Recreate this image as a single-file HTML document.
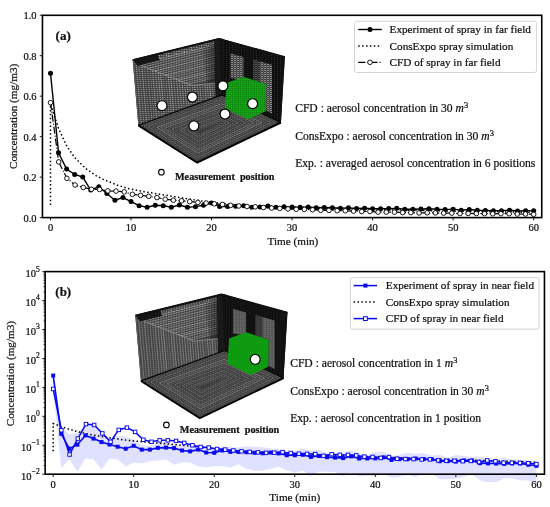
<!DOCTYPE html><html><head><meta charset="utf-8"><title>Spray concentration</title><style>
html,body{margin:0;padding:0;background:#fff;width:550px;height:507px;overflow:hidden}svg{display:block}text{font-family:"Liberation Serif","DejaVu Serif",serif;fill:#111;stroke:#111;stroke-width:0.22px}</style></head><body>
<svg width="550" height="507" viewBox="0 0 550 507">
<defs>
<pattern id="mV" width="2.5" height="2" patternUnits="userSpaceOnUse"><rect width="2.5" height="2" fill="#555"/><rect x="0.6" y="0.5" width="1.4" height="1" fill="#bcbcbc"/></pattern>
<pattern id="mH" width="2.5" height="2" patternUnits="userSpaceOnUse" patternTransform="rotate(-13.8)"><rect width="2.5" height="2" fill="#4a4a4a"/><rect x="0" y="0.5" width="2.5" height="0.9" fill="#9c9c9c"/><rect x="0" y="0" width="0.7" height="2" fill="#3a3a3a"/></pattern>
<pattern id="mD" width="3" height="2" patternUnits="userSpaceOnUse"><rect width="3" height="2" fill="#0e0e0e"/><rect x="1" y="1" width="1" height="1" fill="#2a2a2a"/></pattern>
<pattern id="mW" width="3" height="2" patternUnits="userSpaceOnUse"><rect width="3" height="2" fill="#3a3a3a"/><rect x="0" y="0" width="2" height="1" fill="#8c8c8c"/><rect x="2" y="1" width="1" height="1" fill="#606060"/></pattern>
<pattern id="mFine" width="2.2" height="2" patternUnits="userSpaceOnUse"><rect x="0" y="0" width="0.6" height="2" fill="#000" fill-opacity="0.18"/><rect x="0" y="0" width="2.2" height="0.5" fill="#000" fill-opacity="0.12"/></pattern>
<pattern id="mG" width="2" height="2" patternUnits="userSpaceOnUse"><rect width="2" height="2" fill="#10a012"/><rect width="1" height="1" fill="#0a800c"/><rect x="1" y="1" width="1" height="1" fill="#14a816"/></pattern>
<linearGradient id="gB" x1="0" y1="0" x2="1" y2="0"><stop offset="0" stop-color="#000" stop-opacity="0"/><stop offset="1" stop-color="#000" stop-opacity="0.45"/></linearGradient>
<clipPath id="cLW"><polygon points="132.7,59.5 218.9,38.3 222,95 138.4,125.4"/></clipPath>
<clipPath id="cU"><polygon points="136,64.5 158,58.6 214,44.5 215.5,83 191.8,85.5 140.9,65.5"/></clipPath>
<clipPath id="cFL"><polygon points="138.4,125.4 222,95 280.9,122.5 197.2,162.5"/></clipPath>
<clipPath id="cRW"><polygon points="218.9,38.3 284.8,56.6 280.9,122.5 222,95"/></clipPath>
</defs>
<g transform="translate(0,0)">
<polygon points="132.7,59.5 218.9,38.3 222,95 138.4,125.4" fill="#4e4e4e" />
<g clip-path="url(#cLW)">
<line x1="131" y1="36" x2="139.08" y2="130" stroke="#9c9c9c" stroke-width="1.05"/>
<line x1="133.8" y1="36" x2="141.88" y2="130" stroke="#9c9c9c" stroke-width="1.05"/>
<line x1="136.4" y1="36" x2="144.48" y2="130" stroke="#8b8b8b" stroke-width="1.05"/>
<line x1="139.2" y1="36" x2="147.28" y2="130" stroke="#a8a8a8" stroke-width="1.05"/>
<line x1="141.8" y1="36" x2="149.88" y2="130" stroke="#868686" stroke-width="1.05"/>
<line x1="144.6" y1="36" x2="152.68" y2="130" stroke="#939393" stroke-width="1.05"/>
<line x1="147.2" y1="36" x2="155.28" y2="130" stroke="#858585" stroke-width="1.05"/>
<line x1="149.6" y1="36" x2="157.68" y2="130" stroke="#a6a6a6" stroke-width="1.05"/>
<line x1="152.4" y1="36" x2="160.48" y2="130" stroke="#9c9c9c" stroke-width="1.05"/>
<line x1="155" y1="36" x2="163.08" y2="130" stroke="#a7a7a7" stroke-width="1.05"/>
<line x1="157.4" y1="36" x2="165.48" y2="130" stroke="#b5b5b5" stroke-width="1.05"/>
<line x1="159.8" y1="36" x2="167.88" y2="130" stroke="#838383" stroke-width="1.05"/>
<line x1="162.2" y1="36" x2="170.28" y2="130" stroke="#8c8c8c" stroke-width="1.05"/>
<line x1="164.8" y1="36" x2="172.88" y2="130" stroke="#a6a6a6" stroke-width="1.05"/>
<line x1="167.2" y1="36" x2="175.28" y2="130" stroke="#b1b1b1" stroke-width="1.05"/>
<line x1="170" y1="36" x2="178.08" y2="130" stroke="#949494" stroke-width="1.05"/>
<line x1="172.8" y1="36" x2="180.88" y2="130" stroke="#a5a5a5" stroke-width="1.05"/>
<line x1="175.4" y1="36" x2="183.48" y2="130" stroke="#a1a1a1" stroke-width="1.05"/>
<line x1="178" y1="36" x2="186.08" y2="130" stroke="#a8a8a8" stroke-width="1.05"/>
<line x1="180.6" y1="36" x2="188.68" y2="130" stroke="#9f9f9f" stroke-width="1.05"/>
<line x1="183" y1="36" x2="191.08" y2="130" stroke="#aaaaaa" stroke-width="1.05"/>
<line x1="185.4" y1="36" x2="193.48" y2="130" stroke="#9d9d9d" stroke-width="1.05"/>
<line x1="188" y1="36" x2="196.08" y2="130" stroke="#9a9a9a" stroke-width="1.05"/>
<line x1="190.4" y1="36" x2="198.48" y2="130" stroke="#adadad" stroke-width="1.05"/>
<line x1="193" y1="36" x2="201.08" y2="130" stroke="#949494" stroke-width="1.05"/>
<line x1="195.6" y1="36" x2="203.68" y2="130" stroke="#a0a0a0" stroke-width="1.05"/>
<line x1="198.2" y1="36" x2="206.28" y2="130" stroke="#818181" stroke-width="1.05"/>
<line x1="200.6" y1="36" x2="208.68" y2="130" stroke="#a4a4a4" stroke-width="1.05"/>
<line x1="203" y1="36" x2="211.08" y2="130" stroke="#999999" stroke-width="1.05"/>
<line x1="205.4" y1="36" x2="213.48" y2="130" stroke="#b6b6b6" stroke-width="1.05"/>
<line x1="208" y1="36" x2="216.08" y2="130" stroke="#989898" stroke-width="1.05"/>
<line x1="210.4" y1="36" x2="218.48" y2="130" stroke="#818181" stroke-width="1.05"/>
<line x1="212.8" y1="36" x2="220.88" y2="130" stroke="#8d8d8d" stroke-width="1.05"/>
<line x1="215.4" y1="36" x2="223.48" y2="130" stroke="#bbbbbb" stroke-width="1.05"/>
<line x1="217.8" y1="36" x2="225.88" y2="130" stroke="#9e9e9e" stroke-width="1.05"/>
<line x1="220.6" y1="36" x2="228.68" y2="130" stroke="#adadad" stroke-width="1.05"/>
<line x1="223.4" y1="36" x2="231.48" y2="130" stroke="#9a9a9a" stroke-width="1.05"/>
<path d="M130,36.5 H225 M130,38.5 H225 M130,40.5 H225 M130,42.5 H225 M130,44.5 H225 M130,46.5 H225 M130,48.5 H225 M130,50.5 H225 M130,52.5 H225 M130,54.5 H225 M130,56.5 H225 M130,58.5 H225 M130,60.5 H225 M130,62.5 H225 M130,64.5 H225 M130,66.5 H225 M130,68.5 H225 M130,70.5 H225 M130,72.5 H225 M130,74.5 H225 M130,76.5 H225 M130,78.5 H225 M130,80.5 H225 M130,82.5 H225 M130,84.5 H225 M130,86.5 H225 M130,88.5 H225 M130,90.5 H225 M130,92.5 H225 M130,94.5 H225 M130,96.5 H225 M130,98.5 H225 M130,100.5 H225 M130,102.5 H225 M130,104.5 H225 M130,106.5 H225 M130,108.5 H225 M130,110.5 H225 M130,112.5 H225 M130,114.5 H225 M130,116.5 H225 M130,118.5 H225 M130,120.5 H225 M130,122.5 H225 M130,124.5 H225 M130,126.5 H225 M130,128.5 H225" stroke="#383838" stroke-width="1" opacity="0.75"/>
</g>
<g clip-path="url(#cU)">
<polygon points="136,64.5 158,58.6 214,44.5 215.5,83 191.8,85.5 140.9,65.5" fill="#4a4a4a" />
<line x1="130" y1="40.66" x2="225" y2="17.3" stroke="#b0b0b0" stroke-width="0.95"/>
<line x1="130" y1="42.76" x2="225" y2="19.4" stroke="#b7b7b7" stroke-width="0.95"/>
<line x1="130" y1="44.96" x2="225" y2="21.6" stroke="#a1a1a1" stroke-width="0.95"/>
<line x1="130" y1="46.86" x2="225" y2="23.5" stroke="#9f9f9f" stroke-width="0.95"/>
<line x1="130" y1="49.06" x2="225" y2="25.7" stroke="#8c8c8c" stroke-width="0.95"/>
<line x1="130" y1="51.46" x2="225" y2="28.1" stroke="#bcbcbc" stroke-width="0.95"/>
<line x1="130" y1="53.36" x2="225" y2="30" stroke="#949494" stroke-width="0.95"/>
<line x1="130" y1="55.46" x2="225" y2="32.1" stroke="#b9b9b9" stroke-width="0.95"/>
<line x1="130" y1="57.36" x2="225" y2="34" stroke="#8c8c8c" stroke-width="0.95"/>
<line x1="130" y1="59.26" x2="225" y2="35.9" stroke="#a9a9a9" stroke-width="0.95"/>
<line x1="130" y1="61.66" x2="225" y2="38.3" stroke="#979797" stroke-width="0.95"/>
<line x1="130" y1="63.76" x2="225" y2="40.4" stroke="#a8a8a8" stroke-width="0.95"/>
<line x1="130" y1="65.86" x2="225" y2="42.5" stroke="#bababa" stroke-width="0.95"/>
<line x1="130" y1="67.96" x2="225" y2="44.6" stroke="#a6a6a6" stroke-width="0.95"/>
<line x1="130" y1="70.36" x2="225" y2="47" stroke="#939393" stroke-width="0.95"/>
<line x1="130" y1="72.76" x2="225" y2="49.4" stroke="#a6a6a6" stroke-width="0.95"/>
<line x1="130" y1="74.86" x2="225" y2="51.5" stroke="#8c8c8c" stroke-width="0.95"/>
<line x1="130" y1="77.06" x2="225" y2="53.7" stroke="#b1b1b1" stroke-width="0.95"/>
<line x1="130" y1="79.26" x2="225" y2="55.9" stroke="#8d8d8d" stroke-width="0.95"/>
<line x1="130" y1="81.36" x2="225" y2="58" stroke="#979797" stroke-width="0.95"/>
<line x1="130" y1="83.76" x2="225" y2="60.4" stroke="#b2b2b2" stroke-width="0.95"/>
<line x1="130" y1="85.66" x2="225" y2="62.3" stroke="#8e8e8e" stroke-width="0.95"/>
<line x1="130" y1="87.76" x2="225" y2="64.4" stroke="#999999" stroke-width="0.95"/>
<line x1="130" y1="90.16" x2="225" y2="66.8" stroke="#9c9c9c" stroke-width="0.95"/>
<line x1="130" y1="92.06" x2="225" y2="68.7" stroke="#b3b3b3" stroke-width="0.95"/>
<line x1="130" y1="94.26" x2="225" y2="70.9" stroke="#9e9e9e" stroke-width="0.95"/>
<line x1="130" y1="96.66" x2="225" y2="73.3" stroke="#909090" stroke-width="0.95"/>
<line x1="130" y1="98.56" x2="225" y2="75.2" stroke="#919191" stroke-width="0.95"/>
<path d="M131,36 V100 M133.6,36 V100 M136.2,36 V100 M138.8,36 V100 M141.4,36 V100 M144,36 V100 M146.6,36 V100 M149.2,36 V100 M151.8,36 V100 M154.4,36 V100 M157,36 V100 M159.6,36 V100 M162.2,36 V100 M164.8,36 V100 M167.4,36 V100 M170,36 V100 M172.6,36 V100 M175.2,36 V100 M177.8,36 V100 M180.4,36 V100 M183,36 V100 M185.6,36 V100 M188.2,36 V100 M190.8,36 V100 M193.4,36 V100 M196,36 V100 M198.6,36 V100 M201.2,36 V100 M203.8,36 V100 M206.4,36 V100 M209,36 V100 M211.6,36 V100 M214.2,36 V100 M216.8,36 V100 M219.4,36 V100 M222,36 V100 M224.6,36 V100" stroke="#333" stroke-width="0.7" opacity="0.8"/>
<polygon points="200,43 216,38 216,86 208,86" fill="url(#gB)"/>
</g>
<polyline points="140.9,65.5 191.8,85.5 215.5,83" fill="none" stroke="#a0a0a0" stroke-width="0.8" opacity="0.8"/>
<polygon points="218.9,38.3 284.8,56.6 280.9,122.5 222,95" fill="url(#mD)" />
<polygon points="230.5,53.5 243.5,57 243.5,80 230.5,78" fill="url(#mW)" />
<polygon points="253,59.5 272,64.8 272,113.5 253,104" fill="url(#mW)" />
<polygon points="253,59.5 260,61.5 260,106 253,104" fill="#111" opacity="0.45"/>
<polygon points="253,80 266,84 266,110 253,104" fill="#1a1a1a" opacity="0.6"/>
<polygon points="214,40 223,38.6 224,96 215.5,98" fill="#121212" opacity="0.9"/>
<polygon points="244,50 252,52.3 252.5,106 244,102" fill="#121212" opacity="0.85"/>
<polygon points="138.4,125.4 222,95 280.9,122.5 197.2,162.5" fill="#3e3e3e" />
<g clip-path="url(#cFL)">
<polygon points="140.21,125.59 221.96,95.87 279.03,122.51 197.25,161.59" fill="none" stroke="#8b8b8b" stroke-width="0.8"/>
<polygon points="144.05,126.01 221.88,97.7 275.05,122.53 197.37,159.65" fill="none" stroke="#666666" stroke-width="0.8"/>
<polygon points="148.11,126.44 221.8,99.65 270.83,122.55 197.49,157.6" fill="none" stroke="#7d7d7d" stroke-width="0.8"/>
<polygon points="152.4,126.9 221.7,101.7 266.38,122.57 197.61,155.43" fill="none" stroke="#6e6e6e" stroke-width="0.8"/>
<polygon points="156.7,127.37 221.61,103.76 261.94,122.59 197.74,153.26" fill="none" stroke="#9b9b9b" stroke-width="0.8"/>
<polygon points="160.54,127.78 221.53,105.6 257.96,122.6 197.85,151.33" fill="none" stroke="#7e7e7e" stroke-width="0.8"/>
<polygon points="164.38,128.19 221.45,107.44 253.98,122.62 197.97,149.39" fill="none" stroke="#8e8e8e" stroke-width="0.8"/>
<polygon points="168.21,128.6 221.37,109.27 250,122.64 198.08,147.45" fill="none" stroke="#676767" stroke-width="0.8"/>
<polygon points="172.05,129.02 221.29,111.11 246.02,122.66 198.2,145.51" fill="none" stroke="#7b7b7b" stroke-width="0.8"/>
<polygon points="175.89,129.43 221.21,112.95 242.04,122.67 198.31,143.57" fill="none" stroke="#606060" stroke-width="0.8"/>
<polygon points="179.73,129.84 221.13,114.79 238.06,122.69 198.42,141.63" fill="none" stroke="#7c7c7c" stroke-width="0.8"/>
<polygon points="183.57,130.25 221.05,116.63 234.08,122.71 198.54,139.69" fill="none" stroke="#6c6c6c" stroke-width="0.8"/>
<polygon points="187.87,130.72 220.96,118.68 229.63,122.73 198.66,137.53" fill="none" stroke="#7a7a7a" stroke-width="0.8"/>
<polygon points="191.48,131.1 220.88,120.41 225.88,122.75 198.77,135.7" fill="none" stroke="#6e6e6e" stroke-width="0.8"/>
<polygon points="195.09,131.49 220.8,122.14 222.14,122.76 198.88,133.88" fill="none" stroke="#5a5a5a" stroke-width="0.8"/>
<polygon points="138.4,125.4 222,95 280.9,122.5 197.2,162.5" fill="url(#mFine)" />
</g>
<polygon points="132.7,59.5 157.5,53.4 159.5,60.3 137.5,66" fill="#151515" />
<polyline points="132.7,60.2 218.9,39 284.8,57.3" fill="none" stroke="#111" stroke-width="2.2" stroke-linejoin="round"/>
<line x1="283.3" y1="56.6" x2="279.4" y2="122.5" stroke="#111" stroke-width="3.2"/>
<line x1="133.1" y1="59.5" x2="138.8" y2="125.4" stroke="#555" stroke-width="0.9"/>
<line x1="138.4" y1="125.4" x2="222" y2="95" stroke="#0a0a0a" stroke-width="1.4"/>
<line x1="222" y1="95" x2="280.9" y2="122.5" stroke="#0a0a0a" stroke-width="1.4"/>
<polyline points="138.4,125.4 197.2,162.5 280.9,122.5" fill="none" stroke="#000" stroke-width="2" stroke-linejoin="miter"/>
<polygon points="243.3,76.7 266.1,84.1 265.6,111.2 248.2,119.4 224.9,108 226.5,83" fill="url(#mG)" />
<circle cx="162" cy="105.7" r="4.95" fill="#fff" stroke="#000" stroke-width="1.15"/>
<circle cx="192.4" cy="97" r="4.95" fill="#fff" stroke="#000" stroke-width="1.15"/>
<circle cx="222.9" cy="85.9" r="4.95" fill="#fff" stroke="#000" stroke-width="1.15"/>
<circle cx="225" cy="114" r="4.95" fill="#fff" stroke="#000" stroke-width="1.15"/>
<circle cx="193.9" cy="125.8" r="4.95" fill="#fff" stroke="#000" stroke-width="1.15"/>
<circle cx="252.6" cy="103.7" r="4.95" fill="#fff" stroke="#000" stroke-width="1.15"/>
</g>
<rect x="42.45" y="15.3" width="499.3" height="202.3" fill="none" stroke="#000" stroke-width="1.6"/>
<line x1="50.5" y1="217.6" x2="50.5" y2="220.4" stroke="#000" stroke-width="0.9"/>
<text x="50.5" y="231" font-size="10.5" text-anchor="middle">0</text>
<line x1="131.03" y1="217.6" x2="131.03" y2="220.4" stroke="#000" stroke-width="0.9"/>
<text x="131.03" y="231" font-size="10.5" text-anchor="middle">10</text>
<line x1="211.56" y1="217.6" x2="211.56" y2="220.4" stroke="#000" stroke-width="0.9"/>
<text x="211.56" y="231" font-size="10.5" text-anchor="middle">20</text>
<line x1="292.09" y1="217.6" x2="292.09" y2="220.4" stroke="#000" stroke-width="0.9"/>
<text x="292.09" y="231" font-size="10.5" text-anchor="middle">30</text>
<line x1="372.62" y1="217.6" x2="372.62" y2="220.4" stroke="#000" stroke-width="0.9"/>
<text x="372.62" y="231" font-size="10.5" text-anchor="middle">40</text>
<line x1="453.15" y1="217.6" x2="453.15" y2="220.4" stroke="#000" stroke-width="0.9"/>
<text x="453.15" y="231" font-size="10.5" text-anchor="middle">50</text>
<line x1="533.68" y1="217.6" x2="533.68" y2="220.4" stroke="#000" stroke-width="0.9"/>
<text x="533.68" y="231" font-size="10.5" text-anchor="middle">60</text>
<line x1="39.75" y1="217.6" x2="42.45" y2="217.6" stroke="#000" stroke-width="0.9"/>
<text x="36.6" y="221.8" font-size="10.5" text-anchor="end">0.0</text>
<line x1="39.75" y1="177.12" x2="42.45" y2="177.12" stroke="#000" stroke-width="0.9"/>
<text x="36.6" y="181.32" font-size="10.5" text-anchor="end">0.2</text>
<line x1="39.75" y1="136.64" x2="42.45" y2="136.64" stroke="#000" stroke-width="0.9"/>
<text x="36.6" y="140.84" font-size="10.5" text-anchor="end">0.4</text>
<line x1="39.75" y1="96.16" x2="42.45" y2="96.16" stroke="#000" stroke-width="0.9"/>
<text x="36.6" y="100.36" font-size="10.5" text-anchor="end">0.6</text>
<line x1="39.75" y1="55.68" x2="42.45" y2="55.68" stroke="#000" stroke-width="0.9"/>
<text x="36.6" y="59.88" font-size="10.5" text-anchor="end">0.8</text>
<line x1="39.75" y1="15.2" x2="42.45" y2="15.2" stroke="#000" stroke-width="0.9"/>
<text x="36.6" y="19.4" font-size="10.5" text-anchor="end">1.0</text>
<text transform="translate(17,116.4) rotate(-90)" font-size="11.2" text-anchor="middle">Concentration (mg/m3)</text>
<text x="292.9" y="244.6" font-size="11.2" text-anchor="middle">Time (min)</text>
<text x="55.6" y="39.5" font-size="13" font-weight="bold">(a)</text>
<path d="M50.5,205.05 L50.5,104.26 L54.53,116.4 L58.55,128.54 L66.61,145.75 L74.66,157.49 L85.53,168.42 L96,175.6 L103.17,179.35 L117.58,185.22 L127.33,188.25 L143.91,191.69 L156.4,193.72 L175.32,196.75 L193.04,199.59 L204.31,201.41 L243.77,205.66 L292.09,207.28 L372.62,209.5 L453.15,211.12 L533.68,212.34" fill="none" stroke="#000" stroke-width="1.5" stroke-dasharray="1.5 2.4"/>
<path d="M50.5,102.64 L58.69,161.94 L66.88,178.33 L75.07,185.01 L83.26,187.44 L91.45,189.26 L99.64,189.47 L107.83,190.88 L116.02,191.09 L124.21,191.9 L132.39,194.32 L140.58,195.34 L148.77,196.35 L156.96,197.56 L165.15,199.18 L173.34,200.19 L181.53,200.8 L189.72,201.61 L197.91,202.42 L206.1,203.03 L214.29,203.82 L222.48,204.43 L230.67,205.33 L238.86,205.96 L247.05,206.48 L255.24,206.82 L263.43,207.48 L271.62,208.04 L279.81,208.39 L288,208.92 L296.18,209.33 L304.37,209.41 L312.56,209.76 L320.75,210.28 L328.94,210.4 L337.13,210.7 L345.32,210.79 L353.51,211.12 L361.7,211.58 L369.89,211.47 L378.08,212.12 L386.27,212.15 L394.46,212.15 L402.65,212.61 L410.84,212.6 L419.03,212.97 L427.22,212.82 L435.41,212.92 L443.6,213.15 L451.79,213.14 L459.97,213.54 L468.16,213.44 L476.35,213.57 L484.54,213.66 L492.73,213.8 L500.92,213.7 L509.11,213.72 L517.3,214.03 L525.49,214.01 L533.68,214.37" fill="none" stroke="#000" stroke-width="1.2" stroke-dasharray="7.2 1.9 1.1 1.9"/>
<path d="M50.5,73.29 L58.55,152.83 L66.61,169.02 L74.66,174.49 L82.71,177.12 L90.77,190.07 L98.82,186.63 L106.87,193.51 L114.92,200.19 L122.98,197.56 L131.03,201.61 L139.08,205.66 L147.14,207.28 L155.19,205.25 L163.24,205.66 L171.3,207.28 L179.35,205.05 L187.4,207.28 L195.45,206.67 L203.51,205.25 L211.56,203.03 L219.61,206.47 L227.67,206.47 L235.72,206.27 L243.77,205.86 L251.83,207.28 L259.88,207.08 L267.93,206.06 L275.98,207.28 L284.04,206.87 L292.09,207.05 L300.14,207.36 L308.2,207 L316.25,207.72 L324.3,207.39 L332.36,207.7 L340.41,208.15 L348.46,207.83 L356.51,208.44 L364.57,208.18 L372.62,208.68 L380.67,208.8 L388.73,208.6 L396.78,208.33 L404.83,209.18 L412.89,209.22 L420.94,208.95 L428.99,208.76 L437.04,209.27 L445.1,209.59 L453.15,209.14 L461.2,210.22 L469.26,209.54 L477.31,210.25 L485.36,210.54 L493.42,210.7 L501.47,210.65 L509.52,210.27 L517.57,211.05 L525.63,210.78 L533.68,210.86" fill="none" stroke="#000" stroke-width="1.4"/>
<g fill="#000"><circle cx="50.5" cy="73.29" r="2.5"/><circle cx="58.55" cy="152.83" r="2.5"/><circle cx="66.61" cy="169.02" r="2.5"/><circle cx="74.66" cy="174.49" r="2.5"/><circle cx="82.71" cy="177.12" r="2.5"/><circle cx="90.77" cy="190.07" r="2.5"/><circle cx="98.82" cy="186.63" r="2.5"/><circle cx="106.87" cy="193.51" r="2.5"/><circle cx="114.92" cy="200.19" r="2.5"/><circle cx="122.98" cy="197.56" r="2.5"/><circle cx="131.03" cy="201.61" r="2.5"/><circle cx="139.08" cy="205.66" r="2.5"/><circle cx="147.14" cy="207.28" r="2.5"/><circle cx="155.19" cy="205.25" r="2.5"/><circle cx="163.24" cy="205.66" r="2.5"/><circle cx="171.3" cy="207.28" r="2.5"/><circle cx="179.35" cy="205.05" r="2.5"/><circle cx="187.4" cy="207.28" r="2.5"/><circle cx="195.45" cy="206.67" r="2.5"/><circle cx="203.51" cy="205.25" r="2.5"/><circle cx="211.56" cy="203.03" r="2.5"/><circle cx="219.61" cy="206.47" r="2.5"/><circle cx="227.67" cy="206.47" r="2.5"/><circle cx="235.72" cy="206.27" r="2.5"/><circle cx="243.77" cy="205.86" r="2.5"/><circle cx="251.83" cy="207.28" r="2.5"/><circle cx="259.88" cy="207.08" r="2.5"/><circle cx="267.93" cy="206.06" r="2.5"/><circle cx="275.98" cy="207.28" r="2.5"/><circle cx="284.04" cy="206.87" r="2.5"/><circle cx="292.09" cy="207.05" r="2.5"/><circle cx="300.14" cy="207.36" r="2.5"/><circle cx="308.2" cy="207" r="2.5"/><circle cx="316.25" cy="207.72" r="2.5"/><circle cx="324.3" cy="207.39" r="2.5"/><circle cx="332.36" cy="207.7" r="2.5"/><circle cx="340.41" cy="208.15" r="2.5"/><circle cx="348.46" cy="207.83" r="2.5"/><circle cx="356.51" cy="208.44" r="2.5"/><circle cx="364.57" cy="208.18" r="2.5"/><circle cx="372.62" cy="208.68" r="2.5"/><circle cx="380.67" cy="208.8" r="2.5"/><circle cx="388.73" cy="208.6" r="2.5"/><circle cx="396.78" cy="208.33" r="2.5"/><circle cx="404.83" cy="209.18" r="2.5"/><circle cx="412.89" cy="209.22" r="2.5"/><circle cx="420.94" cy="208.95" r="2.5"/><circle cx="428.99" cy="208.76" r="2.5"/><circle cx="437.04" cy="209.27" r="2.5"/><circle cx="445.1" cy="209.59" r="2.5"/><circle cx="453.15" cy="209.14" r="2.5"/><circle cx="461.2" cy="210.22" r="2.5"/><circle cx="469.26" cy="209.54" r="2.5"/><circle cx="477.31" cy="210.25" r="2.5"/><circle cx="485.36" cy="210.54" r="2.5"/><circle cx="493.42" cy="210.7" r="2.5"/><circle cx="501.47" cy="210.65" r="2.5"/><circle cx="509.52" cy="210.27" r="2.5"/><circle cx="517.57" cy="211.05" r="2.5"/><circle cx="525.63" cy="210.78" r="2.5"/><circle cx="533.68" cy="210.86" r="2.5"/></g>
<g fill="#fff" stroke="#000" stroke-width="0.9"><circle cx="50.5" cy="102.64" r="2.3"/><circle cx="58.69" cy="161.94" r="2.3"/><circle cx="66.88" cy="178.33" r="2.3"/><circle cx="75.07" cy="185.01" r="2.3"/><circle cx="83.26" cy="187.44" r="2.3"/><circle cx="91.45" cy="189.26" r="2.3"/><circle cx="99.64" cy="189.47" r="2.3"/><circle cx="107.83" cy="190.88" r="2.3"/><circle cx="116.02" cy="191.09" r="2.3"/><circle cx="124.21" cy="191.9" r="2.3"/><circle cx="132.39" cy="194.32" r="2.3"/><circle cx="140.58" cy="195.34" r="2.3"/><circle cx="148.77" cy="196.35" r="2.3"/><circle cx="156.96" cy="197.56" r="2.3"/><circle cx="165.15" cy="199.18" r="2.3"/><circle cx="173.34" cy="200.19" r="2.3"/><circle cx="181.53" cy="200.8" r="2.3"/><circle cx="189.72" cy="201.61" r="2.3"/><circle cx="197.91" cy="202.42" r="2.3"/><circle cx="206.1" cy="203.03" r="2.3"/><circle cx="214.29" cy="203.82" r="2.3"/><circle cx="222.48" cy="204.43" r="2.3"/><circle cx="230.67" cy="205.33" r="2.3"/><circle cx="238.86" cy="205.96" r="2.3"/><circle cx="247.05" cy="206.48" r="2.3"/><circle cx="255.24" cy="206.82" r="2.3"/><circle cx="263.43" cy="207.48" r="2.3"/><circle cx="271.62" cy="208.04" r="2.3"/><circle cx="279.81" cy="208.39" r="2.3"/><circle cx="288" cy="208.92" r="2.3"/><circle cx="296.18" cy="209.33" r="2.3"/><circle cx="304.37" cy="209.41" r="2.3"/><circle cx="312.56" cy="209.76" r="2.3"/><circle cx="320.75" cy="210.28" r="2.3"/><circle cx="328.94" cy="210.4" r="2.3"/><circle cx="337.13" cy="210.7" r="2.3"/><circle cx="345.32" cy="210.79" r="2.3"/><circle cx="353.51" cy="211.12" r="2.3"/><circle cx="361.7" cy="211.58" r="2.3"/><circle cx="369.89" cy="211.47" r="2.3"/><circle cx="378.08" cy="212.12" r="2.3"/><circle cx="386.27" cy="212.15" r="2.3"/><circle cx="394.46" cy="212.15" r="2.3"/><circle cx="402.65" cy="212.61" r="2.3"/><circle cx="410.84" cy="212.6" r="2.3"/><circle cx="419.03" cy="212.97" r="2.3"/><circle cx="427.22" cy="212.82" r="2.3"/><circle cx="435.41" cy="212.92" r="2.3"/><circle cx="443.6" cy="213.15" r="2.3"/><circle cx="451.79" cy="213.14" r="2.3"/><circle cx="459.97" cy="213.54" r="2.3"/><circle cx="468.16" cy="213.44" r="2.3"/><circle cx="476.35" cy="213.57" r="2.3"/><circle cx="484.54" cy="213.66" r="2.3"/><circle cx="492.73" cy="213.8" r="2.3"/><circle cx="500.92" cy="213.7" r="2.3"/><circle cx="509.11" cy="213.72" r="2.3"/><circle cx="517.3" cy="214.03" r="2.3"/><circle cx="525.49" cy="214.01" r="2.3"/><circle cx="533.68" cy="214.37" r="2.3"/></g>
<rect x="354.5" y="21.3" width="182.1" height="51.2" rx="2" fill="#fff" fill-opacity="0.8" stroke="#d0d0d0" stroke-width="0.9"/>
<line x1="358.2" y1="29.5" x2="381.8" y2="29.5" stroke="#000" stroke-width="1.4"/><circle cx="370" cy="29.5" r="2.5" fill="#000"/>
<line x1="358.2" y1="45.9" x2="381.8" y2="45.9" stroke="#000" stroke-width="1.5" stroke-dasharray="1.5 2.4"/>
<line x1="358.2" y1="62.3" x2="381.8" y2="62.3" stroke="#000" stroke-width="1.2" stroke-dasharray="7.2 1.9 1.1 1.9"/><circle cx="370" cy="62.3" r="2.3" fill="#fff" stroke="#000" stroke-width="0.9"/>
<text x="389.6" y="33.2" font-size="11.2">Experiment of spray in far field</text>
<text x="389.6" y="49.6" font-size="11.2">ConsExpo spray simulation</text>
<text x="389.6" y="66" font-size="11.2">CFD of spray in far field</text>
<text x="295.2" y="111.6" font-size="11.6">CFD : aerosol concentration in 30 <tspan font-style="italic">m</tspan><tspan font-size="8.4" dy="-3.4">3</tspan></text>
<text x="295.2" y="139.5" font-size="11.6">ConsExpo : aerosol concentration in 30 <tspan font-style="italic">m</tspan><tspan font-size="8.4" dy="-3.4">3</tspan></text>
<text x="295.2" y="167.4" font-size="11.6">Exp. : averaged aerosol concentration in 6 positions</text>
<circle cx="161.4" cy="172.2" r="2.8" fill="#fff" stroke="#000" stroke-width="1.1"/>
<text x="175" y="180.1" font-size="10.2" font-weight="bold" word-spacing="2.6">Measurement position</text>
<path d="M53.2,374.36 L61.25,426.16 L69.31,434.55 L77.36,432.41 L85.41,426.45 L93.47,426.45 L101.52,433.68 L109.57,438.31 L117.62,436 L125.68,436.58 L133.73,439.71 L141.78,444.8 L149.84,446.12 L157.89,443.49 L165.94,441.51 L174,444.89 L182.05,445.45 L190.1,446.27 L198.15,444.58 L206.21,446.31 L214.26,448.69 L222.31,446.71 L230.37,446.88 L238.42,447.59 L246.47,446.2 L254.53,446.64 L262.58,447.23 L270.63,448.59 L278.68,448.96 L286.74,451.96 L294.79,451.18 L302.84,448.26 L310.9,450.51 L318.95,449.49 L327,453.2 L335.06,453.75 L343.11,452.75 L351.16,450.26 L359.21,453.07 L367.27,455.01 L375.32,452.05 L383.37,451.53 L391.43,456.12 L399.48,454.83 L407.53,452.63 L415.59,453.96 L423.64,453.34 L431.69,455.6 L439.74,454.91 L447.8,457.46 L455.85,455.04 L463.9,456.02 L471.96,456.88 L480.01,456.62 L488.06,458.4 L496.12,458.88 L504.17,457.82 L512.22,459.4 L520.27,459.46 L528.33,460.65 L536.38,462.16 L536.38,484.38 L528.33,480.47 L520.27,480.18 L512.22,478.47 L504.17,478.41 L496.12,481.92 L488.06,482.13 L480.01,480.24 L471.96,473.92 L463.9,476.91 L455.85,478.74 L447.8,479.25 L439.74,479.21 L431.69,473.41 L423.64,473.33 L415.59,477.33 L407.53,474.79 L399.48,477.11 L391.43,477.8 L383.37,473.39 L375.32,476.23 L367.27,475.63 L359.21,476.46 L351.16,472.44 L343.11,476.62 L335.06,472.11 L327,471.78 L318.95,471.41 L310.9,475.98 L302.84,470.66 L294.79,472.59 L286.74,470.17 L278.68,466.85 L270.63,468.87 L262.58,470.85 L254.53,470.76 L246.47,468.9 L238.42,464.2 L230.37,467.42 L222.31,465.93 L214.26,465.9 L206.21,467.52 L198.15,466.26 L190.1,462.49 L182.05,462.31 L174,464.66 L165.94,459.51 L157.89,460.39 L149.84,461.19 L141.78,463.4 L133.73,462.58 L125.68,466.39 L117.62,459.15 L109.57,458.57 L101.52,469.57 L93.47,459.15 L85.41,458.49 L77.36,471.6 L69.31,459.3 L61.25,468.01 L53.2,390.27 Z" fill="#0000ff" fill-opacity="0.12" stroke="none"/>
<g transform="translate(2.6,255.6)">
<polygon points="132.7,59.5 218.9,38.3 222,95 138.4,125.4" fill="#4e4e4e" />
<g clip-path="url(#cLW)">
<line x1="131" y1="36" x2="139.08" y2="130" stroke="#9c9c9c" stroke-width="1.05"/>
<line x1="133.8" y1="36" x2="141.88" y2="130" stroke="#9c9c9c" stroke-width="1.05"/>
<line x1="136.4" y1="36" x2="144.48" y2="130" stroke="#8b8b8b" stroke-width="1.05"/>
<line x1="139.2" y1="36" x2="147.28" y2="130" stroke="#a8a8a8" stroke-width="1.05"/>
<line x1="141.8" y1="36" x2="149.88" y2="130" stroke="#868686" stroke-width="1.05"/>
<line x1="144.6" y1="36" x2="152.68" y2="130" stroke="#939393" stroke-width="1.05"/>
<line x1="147.2" y1="36" x2="155.28" y2="130" stroke="#858585" stroke-width="1.05"/>
<line x1="149.6" y1="36" x2="157.68" y2="130" stroke="#a6a6a6" stroke-width="1.05"/>
<line x1="152.4" y1="36" x2="160.48" y2="130" stroke="#9c9c9c" stroke-width="1.05"/>
<line x1="155" y1="36" x2="163.08" y2="130" stroke="#a7a7a7" stroke-width="1.05"/>
<line x1="157.4" y1="36" x2="165.48" y2="130" stroke="#b5b5b5" stroke-width="1.05"/>
<line x1="159.8" y1="36" x2="167.88" y2="130" stroke="#838383" stroke-width="1.05"/>
<line x1="162.2" y1="36" x2="170.28" y2="130" stroke="#8c8c8c" stroke-width="1.05"/>
<line x1="164.8" y1="36" x2="172.88" y2="130" stroke="#a6a6a6" stroke-width="1.05"/>
<line x1="167.2" y1="36" x2="175.28" y2="130" stroke="#b1b1b1" stroke-width="1.05"/>
<line x1="170" y1="36" x2="178.08" y2="130" stroke="#949494" stroke-width="1.05"/>
<line x1="172.8" y1="36" x2="180.88" y2="130" stroke="#a5a5a5" stroke-width="1.05"/>
<line x1="175.4" y1="36" x2="183.48" y2="130" stroke="#a1a1a1" stroke-width="1.05"/>
<line x1="178" y1="36" x2="186.08" y2="130" stroke="#a8a8a8" stroke-width="1.05"/>
<line x1="180.6" y1="36" x2="188.68" y2="130" stroke="#9f9f9f" stroke-width="1.05"/>
<line x1="183" y1="36" x2="191.08" y2="130" stroke="#aaaaaa" stroke-width="1.05"/>
<line x1="185.4" y1="36" x2="193.48" y2="130" stroke="#9d9d9d" stroke-width="1.05"/>
<line x1="188" y1="36" x2="196.08" y2="130" stroke="#9a9a9a" stroke-width="1.05"/>
<line x1="190.4" y1="36" x2="198.48" y2="130" stroke="#adadad" stroke-width="1.05"/>
<line x1="193" y1="36" x2="201.08" y2="130" stroke="#949494" stroke-width="1.05"/>
<line x1="195.6" y1="36" x2="203.68" y2="130" stroke="#a0a0a0" stroke-width="1.05"/>
<line x1="198.2" y1="36" x2="206.28" y2="130" stroke="#818181" stroke-width="1.05"/>
<line x1="200.6" y1="36" x2="208.68" y2="130" stroke="#a4a4a4" stroke-width="1.05"/>
<line x1="203" y1="36" x2="211.08" y2="130" stroke="#999999" stroke-width="1.05"/>
<line x1="205.4" y1="36" x2="213.48" y2="130" stroke="#b6b6b6" stroke-width="1.05"/>
<line x1="208" y1="36" x2="216.08" y2="130" stroke="#989898" stroke-width="1.05"/>
<line x1="210.4" y1="36" x2="218.48" y2="130" stroke="#818181" stroke-width="1.05"/>
<line x1="212.8" y1="36" x2="220.88" y2="130" stroke="#8d8d8d" stroke-width="1.05"/>
<line x1="215.4" y1="36" x2="223.48" y2="130" stroke="#bbbbbb" stroke-width="1.05"/>
<line x1="217.8" y1="36" x2="225.88" y2="130" stroke="#9e9e9e" stroke-width="1.05"/>
<line x1="220.6" y1="36" x2="228.68" y2="130" stroke="#adadad" stroke-width="1.05"/>
<line x1="223.4" y1="36" x2="231.48" y2="130" stroke="#9a9a9a" stroke-width="1.05"/>
<path d="M130,36.5 H225 M130,38.5 H225 M130,40.5 H225 M130,42.5 H225 M130,44.5 H225 M130,46.5 H225 M130,48.5 H225 M130,50.5 H225 M130,52.5 H225 M130,54.5 H225 M130,56.5 H225 M130,58.5 H225 M130,60.5 H225 M130,62.5 H225 M130,64.5 H225 M130,66.5 H225 M130,68.5 H225 M130,70.5 H225 M130,72.5 H225 M130,74.5 H225 M130,76.5 H225 M130,78.5 H225 M130,80.5 H225 M130,82.5 H225 M130,84.5 H225 M130,86.5 H225 M130,88.5 H225 M130,90.5 H225 M130,92.5 H225 M130,94.5 H225 M130,96.5 H225 M130,98.5 H225 M130,100.5 H225 M130,102.5 H225 M130,104.5 H225 M130,106.5 H225 M130,108.5 H225 M130,110.5 H225 M130,112.5 H225 M130,114.5 H225 M130,116.5 H225 M130,118.5 H225 M130,120.5 H225 M130,122.5 H225 M130,124.5 H225 M130,126.5 H225 M130,128.5 H225" stroke="#383838" stroke-width="1" opacity="0.75"/>
</g>
<g clip-path="url(#cU)">
<polygon points="136,64.5 158,58.6 214,44.5 215.5,83 191.8,85.5 140.9,65.5" fill="#4a4a4a" />
<line x1="130" y1="40.66" x2="225" y2="17.3" stroke="#b0b0b0" stroke-width="0.95"/>
<line x1="130" y1="42.76" x2="225" y2="19.4" stroke="#b7b7b7" stroke-width="0.95"/>
<line x1="130" y1="44.96" x2="225" y2="21.6" stroke="#a1a1a1" stroke-width="0.95"/>
<line x1="130" y1="46.86" x2="225" y2="23.5" stroke="#9f9f9f" stroke-width="0.95"/>
<line x1="130" y1="49.06" x2="225" y2="25.7" stroke="#8c8c8c" stroke-width="0.95"/>
<line x1="130" y1="51.46" x2="225" y2="28.1" stroke="#bcbcbc" stroke-width="0.95"/>
<line x1="130" y1="53.36" x2="225" y2="30" stroke="#949494" stroke-width="0.95"/>
<line x1="130" y1="55.46" x2="225" y2="32.1" stroke="#b9b9b9" stroke-width="0.95"/>
<line x1="130" y1="57.36" x2="225" y2="34" stroke="#8c8c8c" stroke-width="0.95"/>
<line x1="130" y1="59.26" x2="225" y2="35.9" stroke="#a9a9a9" stroke-width="0.95"/>
<line x1="130" y1="61.66" x2="225" y2="38.3" stroke="#979797" stroke-width="0.95"/>
<line x1="130" y1="63.76" x2="225" y2="40.4" stroke="#a8a8a8" stroke-width="0.95"/>
<line x1="130" y1="65.86" x2="225" y2="42.5" stroke="#bababa" stroke-width="0.95"/>
<line x1="130" y1="67.96" x2="225" y2="44.6" stroke="#a6a6a6" stroke-width="0.95"/>
<line x1="130" y1="70.36" x2="225" y2="47" stroke="#939393" stroke-width="0.95"/>
<line x1="130" y1="72.76" x2="225" y2="49.4" stroke="#a6a6a6" stroke-width="0.95"/>
<line x1="130" y1="74.86" x2="225" y2="51.5" stroke="#8c8c8c" stroke-width="0.95"/>
<line x1="130" y1="77.06" x2="225" y2="53.7" stroke="#b1b1b1" stroke-width="0.95"/>
<line x1="130" y1="79.26" x2="225" y2="55.9" stroke="#8d8d8d" stroke-width="0.95"/>
<line x1="130" y1="81.36" x2="225" y2="58" stroke="#979797" stroke-width="0.95"/>
<line x1="130" y1="83.76" x2="225" y2="60.4" stroke="#b2b2b2" stroke-width="0.95"/>
<line x1="130" y1="85.66" x2="225" y2="62.3" stroke="#8e8e8e" stroke-width="0.95"/>
<line x1="130" y1="87.76" x2="225" y2="64.4" stroke="#999999" stroke-width="0.95"/>
<line x1="130" y1="90.16" x2="225" y2="66.8" stroke="#9c9c9c" stroke-width="0.95"/>
<line x1="130" y1="92.06" x2="225" y2="68.7" stroke="#b3b3b3" stroke-width="0.95"/>
<line x1="130" y1="94.26" x2="225" y2="70.9" stroke="#9e9e9e" stroke-width="0.95"/>
<line x1="130" y1="96.66" x2="225" y2="73.3" stroke="#909090" stroke-width="0.95"/>
<line x1="130" y1="98.56" x2="225" y2="75.2" stroke="#919191" stroke-width="0.95"/>
<path d="M131,36 V100 M133.6,36 V100 M136.2,36 V100 M138.8,36 V100 M141.4,36 V100 M144,36 V100 M146.6,36 V100 M149.2,36 V100 M151.8,36 V100 M154.4,36 V100 M157,36 V100 M159.6,36 V100 M162.2,36 V100 M164.8,36 V100 M167.4,36 V100 M170,36 V100 M172.6,36 V100 M175.2,36 V100 M177.8,36 V100 M180.4,36 V100 M183,36 V100 M185.6,36 V100 M188.2,36 V100 M190.8,36 V100 M193.4,36 V100 M196,36 V100 M198.6,36 V100 M201.2,36 V100 M203.8,36 V100 M206.4,36 V100 M209,36 V100 M211.6,36 V100 M214.2,36 V100 M216.8,36 V100 M219.4,36 V100 M222,36 V100 M224.6,36 V100" stroke="#333" stroke-width="0.7" opacity="0.8"/>
<polygon points="200,43 216,38 216,86 208,86" fill="url(#gB)"/>
</g>
<polyline points="140.9,65.5 191.8,85.5 215.5,83" fill="none" stroke="#a0a0a0" stroke-width="0.8" opacity="0.8"/>
<polygon points="218.9,38.3 284.8,56.6 280.9,122.5 222,95" fill="url(#mD)" />
<polygon points="230.5,53.5 243.5,57 243.5,80 230.5,78" fill="url(#mW)" />
<polygon points="253,59.5 272,64.8 272,113.5 253,104" fill="url(#mW)" />
<polygon points="253,59.5 260,61.5 260,106 253,104" fill="#111" opacity="0.45"/>
<polygon points="253,80 266,84 266,110 253,104" fill="#1a1a1a" opacity="0.6"/>
<polygon points="214,40 223,38.6 224,96 215.5,98" fill="#121212" opacity="0.9"/>
<polygon points="244,50 252,52.3 252.5,106 244,102" fill="#121212" opacity="0.85"/>
<polygon points="138.4,125.4 222,95 280.9,122.5 197.2,162.5" fill="#3e3e3e" />
<g clip-path="url(#cFL)">
<polygon points="140.21,125.59 221.96,95.87 279.03,122.51 197.25,161.59" fill="none" stroke="#8b8b8b" stroke-width="0.8"/>
<polygon points="144.05,126.01 221.88,97.7 275.05,122.53 197.37,159.65" fill="none" stroke="#666666" stroke-width="0.8"/>
<polygon points="148.11,126.44 221.8,99.65 270.83,122.55 197.49,157.6" fill="none" stroke="#7d7d7d" stroke-width="0.8"/>
<polygon points="152.4,126.9 221.7,101.7 266.38,122.57 197.61,155.43" fill="none" stroke="#6e6e6e" stroke-width="0.8"/>
<polygon points="156.7,127.37 221.61,103.76 261.94,122.59 197.74,153.26" fill="none" stroke="#9b9b9b" stroke-width="0.8"/>
<polygon points="160.54,127.78 221.53,105.6 257.96,122.6 197.85,151.33" fill="none" stroke="#7e7e7e" stroke-width="0.8"/>
<polygon points="164.38,128.19 221.45,107.44 253.98,122.62 197.97,149.39" fill="none" stroke="#8e8e8e" stroke-width="0.8"/>
<polygon points="168.21,128.6 221.37,109.27 250,122.64 198.08,147.45" fill="none" stroke="#676767" stroke-width="0.8"/>
<polygon points="172.05,129.02 221.29,111.11 246.02,122.66 198.2,145.51" fill="none" stroke="#7b7b7b" stroke-width="0.8"/>
<polygon points="175.89,129.43 221.21,112.95 242.04,122.67 198.31,143.57" fill="none" stroke="#606060" stroke-width="0.8"/>
<polygon points="179.73,129.84 221.13,114.79 238.06,122.69 198.42,141.63" fill="none" stroke="#7c7c7c" stroke-width="0.8"/>
<polygon points="183.57,130.25 221.05,116.63 234.08,122.71 198.54,139.69" fill="none" stroke="#6c6c6c" stroke-width="0.8"/>
<polygon points="187.87,130.72 220.96,118.68 229.63,122.73 198.66,137.53" fill="none" stroke="#7a7a7a" stroke-width="0.8"/>
<polygon points="191.48,131.1 220.88,120.41 225.88,122.75 198.77,135.7" fill="none" stroke="#6e6e6e" stroke-width="0.8"/>
<polygon points="195.09,131.49 220.8,122.14 222.14,122.76 198.88,133.88" fill="none" stroke="#5a5a5a" stroke-width="0.8"/>
<polygon points="138.4,125.4 222,95 280.9,122.5 197.2,162.5" fill="url(#mFine)" />
</g>
<polygon points="132.7,59.5 157.5,53.4 159.5,60.3 137.5,66" fill="#151515" />
<polyline points="132.7,60.2 218.9,39 284.8,57.3" fill="none" stroke="#111" stroke-width="2.2" stroke-linejoin="round"/>
<line x1="283.3" y1="56.6" x2="279.4" y2="122.5" stroke="#111" stroke-width="3.2"/>
<line x1="133.1" y1="59.5" x2="138.8" y2="125.4" stroke="#555" stroke-width="0.9"/>
<line x1="138.4" y1="125.4" x2="222" y2="95" stroke="#0a0a0a" stroke-width="1.4"/>
<line x1="222" y1="95" x2="280.9" y2="122.5" stroke="#0a0a0a" stroke-width="1.4"/>
<polyline points="138.4,125.4 197.2,162.5 280.9,122.5" fill="none" stroke="#000" stroke-width="2" stroke-linejoin="miter"/>
<polygon points="243.3,76.7 266.1,84.1 265.6,111.2 248.2,119.4 224.9,108 226.5,83" fill="url(#mG)" />
<circle cx="252.6" cy="103.7" r="4.95" fill="#fff" stroke="#000" stroke-width="1.15"/>
</g>
<rect x="45.15" y="271.6" width="499.3" height="202.6" fill="none" stroke="#000" stroke-width="1.6"/>
<line x1="53.2" y1="474.2" x2="53.2" y2="477" stroke="#000" stroke-width="0.9"/>
<text x="53.2" y="487.6" font-size="10.5" text-anchor="middle">0</text>
<line x1="133.73" y1="474.2" x2="133.73" y2="477" stroke="#000" stroke-width="0.9"/>
<text x="133.73" y="487.6" font-size="10.5" text-anchor="middle">10</text>
<line x1="214.26" y1="474.2" x2="214.26" y2="477" stroke="#000" stroke-width="0.9"/>
<text x="214.26" y="487.6" font-size="10.5" text-anchor="middle">20</text>
<line x1="294.79" y1="474.2" x2="294.79" y2="477" stroke="#000" stroke-width="0.9"/>
<text x="294.79" y="487.6" font-size="10.5" text-anchor="middle">30</text>
<line x1="375.32" y1="474.2" x2="375.32" y2="477" stroke="#000" stroke-width="0.9"/>
<text x="375.32" y="487.6" font-size="10.5" text-anchor="middle">40</text>
<line x1="455.85" y1="474.2" x2="455.85" y2="477" stroke="#000" stroke-width="0.9"/>
<text x="455.85" y="487.6" font-size="10.5" text-anchor="middle">50</text>
<line x1="536.38" y1="474.2" x2="536.38" y2="477" stroke="#000" stroke-width="0.9"/>
<text x="536.38" y="487.6" font-size="10.5" text-anchor="middle">60</text>
<line x1="42.35" y1="474.2" x2="45.15" y2="474.2" stroke="#000" stroke-width="0.9"/>
<text x="39.7" y="479.7" font-size="10.5" text-anchor="end">10<tspan font-size="7.6" dy="-5.6">−2</tspan></text>
<line x1="43.35" y1="465.49" x2="45.15" y2="465.49" stroke="#000" stroke-width="0.6"/>
<line x1="43.35" y1="460.39" x2="45.15" y2="460.39" stroke="#000" stroke-width="0.6"/>
<line x1="43.35" y1="456.78" x2="45.15" y2="456.78" stroke="#000" stroke-width="0.6"/>
<line x1="43.35" y1="453.97" x2="45.15" y2="453.97" stroke="#000" stroke-width="0.6"/>
<line x1="43.35" y1="451.68" x2="45.15" y2="451.68" stroke="#000" stroke-width="0.6"/>
<line x1="43.35" y1="449.74" x2="45.15" y2="449.74" stroke="#000" stroke-width="0.6"/>
<line x1="43.35" y1="448.06" x2="45.15" y2="448.06" stroke="#000" stroke-width="0.6"/>
<line x1="43.35" y1="446.58" x2="45.15" y2="446.58" stroke="#000" stroke-width="0.6"/>
<line x1="42.35" y1="445.26" x2="45.15" y2="445.26" stroke="#000" stroke-width="0.9"/>
<text x="39.7" y="450.76" font-size="10.5" text-anchor="end">10<tspan font-size="7.6" dy="-5.6">−1</tspan></text>
<line x1="43.35" y1="436.55" x2="45.15" y2="436.55" stroke="#000" stroke-width="0.6"/>
<line x1="43.35" y1="431.45" x2="45.15" y2="431.45" stroke="#000" stroke-width="0.6"/>
<line x1="43.35" y1="427.84" x2="45.15" y2="427.84" stroke="#000" stroke-width="0.6"/>
<line x1="43.35" y1="425.03" x2="45.15" y2="425.03" stroke="#000" stroke-width="0.6"/>
<line x1="43.35" y1="422.74" x2="45.15" y2="422.74" stroke="#000" stroke-width="0.6"/>
<line x1="43.35" y1="420.8" x2="45.15" y2="420.8" stroke="#000" stroke-width="0.6"/>
<line x1="43.35" y1="419.12" x2="45.15" y2="419.12" stroke="#000" stroke-width="0.6"/>
<line x1="43.35" y1="417.64" x2="45.15" y2="417.64" stroke="#000" stroke-width="0.6"/>
<line x1="42.35" y1="416.32" x2="45.15" y2="416.32" stroke="#000" stroke-width="0.9"/>
<text x="39.7" y="421.82" font-size="10.5" text-anchor="end">10<tspan font-size="7.6" dy="-5.6">0</tspan></text>
<line x1="43.35" y1="407.61" x2="45.15" y2="407.61" stroke="#000" stroke-width="0.6"/>
<line x1="43.35" y1="402.51" x2="45.15" y2="402.51" stroke="#000" stroke-width="0.6"/>
<line x1="43.35" y1="398.9" x2="45.15" y2="398.9" stroke="#000" stroke-width="0.6"/>
<line x1="43.35" y1="396.09" x2="45.15" y2="396.09" stroke="#000" stroke-width="0.6"/>
<line x1="43.35" y1="393.8" x2="45.15" y2="393.8" stroke="#000" stroke-width="0.6"/>
<line x1="43.35" y1="391.86" x2="45.15" y2="391.86" stroke="#000" stroke-width="0.6"/>
<line x1="43.35" y1="390.18" x2="45.15" y2="390.18" stroke="#000" stroke-width="0.6"/>
<line x1="43.35" y1="388.7" x2="45.15" y2="388.7" stroke="#000" stroke-width="0.6"/>
<line x1="42.35" y1="387.38" x2="45.15" y2="387.38" stroke="#000" stroke-width="0.9"/>
<text x="39.7" y="392.88" font-size="10.5" text-anchor="end">10<tspan font-size="7.6" dy="-5.6">1</tspan></text>
<line x1="43.35" y1="378.67" x2="45.15" y2="378.67" stroke="#000" stroke-width="0.6"/>
<line x1="43.35" y1="373.57" x2="45.15" y2="373.57" stroke="#000" stroke-width="0.6"/>
<line x1="43.35" y1="369.96" x2="45.15" y2="369.96" stroke="#000" stroke-width="0.6"/>
<line x1="43.35" y1="367.15" x2="45.15" y2="367.15" stroke="#000" stroke-width="0.6"/>
<line x1="43.35" y1="364.86" x2="45.15" y2="364.86" stroke="#000" stroke-width="0.6"/>
<line x1="43.35" y1="362.92" x2="45.15" y2="362.92" stroke="#000" stroke-width="0.6"/>
<line x1="43.35" y1="361.24" x2="45.15" y2="361.24" stroke="#000" stroke-width="0.6"/>
<line x1="43.35" y1="359.76" x2="45.15" y2="359.76" stroke="#000" stroke-width="0.6"/>
<line x1="42.35" y1="358.44" x2="45.15" y2="358.44" stroke="#000" stroke-width="0.9"/>
<text x="39.7" y="363.94" font-size="10.5" text-anchor="end">10<tspan font-size="7.6" dy="-5.6">2</tspan></text>
<line x1="43.35" y1="349.73" x2="45.15" y2="349.73" stroke="#000" stroke-width="0.6"/>
<line x1="43.35" y1="344.63" x2="45.15" y2="344.63" stroke="#000" stroke-width="0.6"/>
<line x1="43.35" y1="341.02" x2="45.15" y2="341.02" stroke="#000" stroke-width="0.6"/>
<line x1="43.35" y1="338.21" x2="45.15" y2="338.21" stroke="#000" stroke-width="0.6"/>
<line x1="43.35" y1="335.92" x2="45.15" y2="335.92" stroke="#000" stroke-width="0.6"/>
<line x1="43.35" y1="333.98" x2="45.15" y2="333.98" stroke="#000" stroke-width="0.6"/>
<line x1="43.35" y1="332.3" x2="45.15" y2="332.3" stroke="#000" stroke-width="0.6"/>
<line x1="43.35" y1="330.82" x2="45.15" y2="330.82" stroke="#000" stroke-width="0.6"/>
<line x1="42.35" y1="329.5" x2="45.15" y2="329.5" stroke="#000" stroke-width="0.9"/>
<text x="39.7" y="335" font-size="10.5" text-anchor="end">10<tspan font-size="7.6" dy="-5.6">3</tspan></text>
<line x1="43.35" y1="320.79" x2="45.15" y2="320.79" stroke="#000" stroke-width="0.6"/>
<line x1="43.35" y1="315.69" x2="45.15" y2="315.69" stroke="#000" stroke-width="0.6"/>
<line x1="43.35" y1="312.08" x2="45.15" y2="312.08" stroke="#000" stroke-width="0.6"/>
<line x1="43.35" y1="309.27" x2="45.15" y2="309.27" stroke="#000" stroke-width="0.6"/>
<line x1="43.35" y1="306.98" x2="45.15" y2="306.98" stroke="#000" stroke-width="0.6"/>
<line x1="43.35" y1="305.04" x2="45.15" y2="305.04" stroke="#000" stroke-width="0.6"/>
<line x1="43.35" y1="303.36" x2="45.15" y2="303.36" stroke="#000" stroke-width="0.6"/>
<line x1="43.35" y1="301.88" x2="45.15" y2="301.88" stroke="#000" stroke-width="0.6"/>
<line x1="42.35" y1="300.56" x2="45.15" y2="300.56" stroke="#000" stroke-width="0.9"/>
<text x="39.7" y="306.06" font-size="10.5" text-anchor="end">10<tspan font-size="7.6" dy="-5.6">4</tspan></text>
<line x1="43.35" y1="291.85" x2="45.15" y2="291.85" stroke="#000" stroke-width="0.6"/>
<line x1="43.35" y1="286.75" x2="45.15" y2="286.75" stroke="#000" stroke-width="0.6"/>
<line x1="43.35" y1="283.14" x2="45.15" y2="283.14" stroke="#000" stroke-width="0.6"/>
<line x1="43.35" y1="280.33" x2="45.15" y2="280.33" stroke="#000" stroke-width="0.6"/>
<line x1="43.35" y1="278.04" x2="45.15" y2="278.04" stroke="#000" stroke-width="0.6"/>
<line x1="43.35" y1="276.1" x2="45.15" y2="276.1" stroke="#000" stroke-width="0.6"/>
<line x1="43.35" y1="274.42" x2="45.15" y2="274.42" stroke="#000" stroke-width="0.6"/>
<line x1="43.35" y1="272.94" x2="45.15" y2="272.94" stroke="#000" stroke-width="0.6"/>
<line x1="42.35" y1="271.62" x2="45.15" y2="271.62" stroke="#000" stroke-width="0.9"/>
<text x="39.7" y="277.12" font-size="10.5" text-anchor="end">10<tspan font-size="7.6" dy="-5.6">5</tspan></text>
<text transform="translate(13.6,373.6) rotate(-90)" font-size="11.2" text-anchor="middle">Concentration (mg/m3)</text>
<text x="294.8" y="501.2" font-size="11.2" text-anchor="middle">Time (min)</text>
<text x="55.3" y="295.8" font-size="13" font-weight="bold">(b)</text>
<path d="M53.2,451.27 L53.2,423.61 L57.23,425.03 L61.25,426.64 L69.31,429.34 L77.36,431.58 L88.23,434.1 L98.7,436.09 L105.87,437.26 L120.28,439.35 L130.03,440.59 L146.61,442.16 L159.1,443.18 L178.02,444.89 L195.74,446.72 L207.01,448.06 L246.47,451.89 L294.79,453.72 L375.32,456.78 L455.85,459.58 L536.38,462.19" fill="none" stroke="#000" stroke-width="1.5" stroke-dasharray="1.5 2.4"/>
<path d="M53.2,388.97 L61.39,430.21 L69.58,454.52 L77.77,438.6 L85.96,424.13 L94.15,425 L102.34,433.39 L110.53,441.79 L118.72,429.92 L126.91,427.61 L135.09,431.95 L143.28,439.76 L151.47,441.79 L159.66,440.34 L167.85,440.34 L176.04,440.92 L184.23,442.94 L192.42,445.26 L200.61,447 L208.8,447.58 L216.99,449.02 L225.18,449.6 L233.37,450.47 L241.56,451.34 L249.75,451.92 L257.94,452.39 L266.13,452.83 L274.32,452.7 L282.51,452.13 L290.7,453.06 L298.88,453.79 L307.07,453.87 L315.26,454.06 L323.45,455.83 L331.64,454.19 L339.83,454.79 L348.02,454.9 L356.21,455.4 L364.4,456.66 L372.59,456.97 L380.78,457.98 L388.97,457.07 L397.16,458.72 L405.35,459.03 L413.54,459.03 L421.73,459.46 L429.92,459.37 L438.11,460.36 L446.3,460.8 L454.49,460.78 L462.67,461.21 L470.86,460.93 L479.05,462.04 L487.24,460.4 L495.43,461.32 L503.62,462.72 L511.81,462.81 L520,462.91 L528.19,463.19 L536.38,464.08" fill="none" stroke="#0a0af0" stroke-width="1.5"/>
<path d="M53.2,375.57 L61.25,433.8 L69.31,448.73 L77.36,444.68 L85.41,435.42 L93.47,438.6 L101.52,442.08 L109.57,444.54 L117.62,446.71 L125.68,448.73 L133.73,445.84 L141.78,449.6 L149.84,449.6 L157.89,447.86 L165.94,447.58 L174,448.15 L182.05,450.47 L190.1,451.34 L198.15,449.6 L206.21,452.5 L214.26,452.78 L222.31,450.47 L230.37,451.92 L238.42,451.92 L246.47,452.21 L254.53,452.78 L262.58,453.25 L270.63,452.56 L278.68,453.37 L286.74,455.24 L294.79,455.26 L302.84,454.76 L310.9,456.94 L318.95,455.99 L327,457.15 L335.06,457.61 L343.11,458.1 L351.16,456.36 L359.21,458.52 L367.27,458.49 L375.32,458.39 L383.37,457.32 L391.43,459.92 L399.48,459.17 L407.53,459.19 L415.59,458.54 L423.64,459.04 L431.69,459.22 L439.74,461.23 L447.8,461.15 L455.85,461.63 L463.9,460.42 L471.96,460.52 L480.01,463.17 L488.06,463.41 L496.12,463.57 L504.17,463.88 L512.22,463.46 L520.27,463.47 L528.33,464.73 L536.38,465.8" fill="none" stroke="#0a0af0" stroke-width="1.6"/>
<g fill="#0a0af0"><rect x="51.2" y="373.57" width="4" height="4"/><rect x="59.25" y="431.8" width="4" height="4"/><rect x="67.31" y="446.73" width="4" height="4"/><rect x="75.36" y="442.68" width="4" height="4"/><rect x="83.41" y="433.42" width="4" height="4"/><rect x="91.47" y="436.6" width="4" height="4"/><rect x="99.52" y="440.08" width="4" height="4"/><rect x="107.57" y="442.54" width="4" height="4"/><rect x="115.62" y="444.71" width="4" height="4"/><rect x="123.68" y="446.73" width="4" height="4"/><rect x="131.73" y="443.84" width="4" height="4"/><rect x="139.78" y="447.6" width="4" height="4"/><rect x="147.84" y="447.6" width="4" height="4"/><rect x="155.89" y="445.86" width="4" height="4"/><rect x="163.94" y="445.58" width="4" height="4"/><rect x="172" y="446.15" width="4" height="4"/><rect x="180.05" y="448.47" width="4" height="4"/><rect x="188.1" y="449.34" width="4" height="4"/><rect x="196.15" y="447.6" width="4" height="4"/><rect x="204.21" y="450.5" width="4" height="4"/><rect x="212.26" y="450.78" width="4" height="4"/><rect x="220.31" y="448.47" width="4" height="4"/><rect x="228.37" y="449.92" width="4" height="4"/><rect x="236.42" y="449.92" width="4" height="4"/><rect x="244.47" y="450.21" width="4" height="4"/><rect x="252.53" y="450.78" width="4" height="4"/><rect x="260.58" y="451.25" width="4" height="4"/><rect x="268.63" y="450.56" width="4" height="4"/><rect x="276.68" y="451.37" width="4" height="4"/><rect x="284.74" y="453.24" width="4" height="4"/><rect x="292.79" y="453.26" width="4" height="4"/><rect x="300.84" y="452.76" width="4" height="4"/><rect x="308.9" y="454.94" width="4" height="4"/><rect x="316.95" y="453.99" width="4" height="4"/><rect x="325" y="455.15" width="4" height="4"/><rect x="333.06" y="455.61" width="4" height="4"/><rect x="341.11" y="456.1" width="4" height="4"/><rect x="349.16" y="454.36" width="4" height="4"/><rect x="357.21" y="456.52" width="4" height="4"/><rect x="365.27" y="456.49" width="4" height="4"/><rect x="373.32" y="456.39" width="4" height="4"/><rect x="381.37" y="455.32" width="4" height="4"/><rect x="389.43" y="457.92" width="4" height="4"/><rect x="397.48" y="457.17" width="4" height="4"/><rect x="405.53" y="457.19" width="4" height="4"/><rect x="413.59" y="456.54" width="4" height="4"/><rect x="421.64" y="457.04" width="4" height="4"/><rect x="429.69" y="457.22" width="4" height="4"/><rect x="437.74" y="459.23" width="4" height="4"/><rect x="445.8" y="459.15" width="4" height="4"/><rect x="453.85" y="459.63" width="4" height="4"/><rect x="461.9" y="458.42" width="4" height="4"/><rect x="469.96" y="458.52" width="4" height="4"/><rect x="478.01" y="461.17" width="4" height="4"/><rect x="486.06" y="461.41" width="4" height="4"/><rect x="494.12" y="461.57" width="4" height="4"/><rect x="502.17" y="461.88" width="4" height="4"/><rect x="510.22" y="461.46" width="4" height="4"/><rect x="518.27" y="461.47" width="4" height="4"/><rect x="526.33" y="462.73" width="4" height="4"/><rect x="534.38" y="463.8" width="4" height="4"/></g>
<g fill="#fff" stroke="#0a0af0" stroke-width="0.95"><rect x="51.45" y="387.22" width="3.5" height="3.5"/><rect x="59.64" y="428.46" width="3.5" height="3.5"/><rect x="67.83" y="452.77" width="3.5" height="3.5"/><rect x="76.02" y="436.85" width="3.5" height="3.5"/><rect x="84.21" y="422.38" width="3.5" height="3.5"/><rect x="92.4" y="423.25" width="3.5" height="3.5"/><rect x="100.59" y="431.64" width="3.5" height="3.5"/><rect x="108.78" y="440.04" width="3.5" height="3.5"/><rect x="116.97" y="428.17" width="3.5" height="3.5"/><rect x="125.16" y="425.86" width="3.5" height="3.5"/><rect x="133.34" y="430.2" width="3.5" height="3.5"/><rect x="141.53" y="438.01" width="3.5" height="3.5"/><rect x="149.72" y="440.04" width="3.5" height="3.5"/><rect x="157.91" y="438.59" width="3.5" height="3.5"/><rect x="166.1" y="438.59" width="3.5" height="3.5"/><rect x="174.29" y="439.17" width="3.5" height="3.5"/><rect x="182.48" y="441.19" width="3.5" height="3.5"/><rect x="190.67" y="443.51" width="3.5" height="3.5"/><rect x="198.86" y="445.25" width="3.5" height="3.5"/><rect x="207.05" y="445.83" width="3.5" height="3.5"/><rect x="215.24" y="447.27" width="3.5" height="3.5"/><rect x="223.43" y="447.85" width="3.5" height="3.5"/><rect x="231.62" y="448.72" width="3.5" height="3.5"/><rect x="239.81" y="449.59" width="3.5" height="3.5"/><rect x="248" y="450.17" width="3.5" height="3.5"/><rect x="256.19" y="450.64" width="3.5" height="3.5"/><rect x="264.38" y="451.08" width="3.5" height="3.5"/><rect x="272.57" y="450.95" width="3.5" height="3.5"/><rect x="280.76" y="450.38" width="3.5" height="3.5"/><rect x="288.95" y="451.31" width="3.5" height="3.5"/><rect x="297.13" y="452.04" width="3.5" height="3.5"/><rect x="305.32" y="452.12" width="3.5" height="3.5"/><rect x="313.51" y="452.31" width="3.5" height="3.5"/><rect x="321.7" y="454.08" width="3.5" height="3.5"/><rect x="329.89" y="452.44" width="3.5" height="3.5"/><rect x="338.08" y="453.04" width="3.5" height="3.5"/><rect x="346.27" y="453.15" width="3.5" height="3.5"/><rect x="354.46" y="453.65" width="3.5" height="3.5"/><rect x="362.65" y="454.91" width="3.5" height="3.5"/><rect x="370.84" y="455.22" width="3.5" height="3.5"/><rect x="379.03" y="456.23" width="3.5" height="3.5"/><rect x="387.22" y="455.32" width="3.5" height="3.5"/><rect x="395.41" y="456.97" width="3.5" height="3.5"/><rect x="403.6" y="457.28" width="3.5" height="3.5"/><rect x="411.79" y="457.28" width="3.5" height="3.5"/><rect x="419.98" y="457.71" width="3.5" height="3.5"/><rect x="428.17" y="457.62" width="3.5" height="3.5"/><rect x="436.36" y="458.61" width="3.5" height="3.5"/><rect x="444.55" y="459.05" width="3.5" height="3.5"/><rect x="452.74" y="459.03" width="3.5" height="3.5"/><rect x="460.92" y="459.46" width="3.5" height="3.5"/><rect x="469.11" y="459.18" width="3.5" height="3.5"/><rect x="477.3" y="460.29" width="3.5" height="3.5"/><rect x="485.49" y="458.65" width="3.5" height="3.5"/><rect x="493.68" y="459.57" width="3.5" height="3.5"/><rect x="501.87" y="460.97" width="3.5" height="3.5"/><rect x="510.06" y="461.06" width="3.5" height="3.5"/><rect x="518.25" y="461.16" width="3.5" height="3.5"/><rect x="526.44" y="461.44" width="3.5" height="3.5"/><rect x="534.63" y="462.33" width="3.5" height="3.5"/></g>
<rect x="350.4" y="277.6" width="188.7" height="51.5" rx="2" fill="#fff" fill-opacity="0.8" stroke="#d0d0d0" stroke-width="0.9"/>
<line x1="353.6" y1="285.6" x2="377" y2="285.6" stroke="#0a0af0" stroke-width="1.5"/><rect x="363.4" y="283.6" width="4" height="4" fill="#0a0af0"/>
<line x1="353.6" y1="302" x2="377" y2="302" stroke="#000" stroke-width="1.5" stroke-dasharray="1.5 2.4"/>
<line x1="353.6" y1="318.6" x2="377" y2="318.6" stroke="#0a0af0" stroke-width="1.5"/><rect x="363.5" y="316.7" width="3.8" height="3.8" fill="#fff" stroke="#0a0af0" stroke-width="1"/>
<text x="385.8" y="289.3" font-size="11.2">Experiment of spray in near field</text>
<text x="385.8" y="305.7" font-size="11.2">ConsExpo spray simulation</text>
<text x="385.8" y="322.3" font-size="11.2">CFD of spray in near field</text>
<text x="290.2" y="366.6" font-size="11.6">CFD : aerosol concentration in 1 <tspan font-style="italic">m</tspan><tspan font-size="8.4" dy="-3.4">3</tspan></text>
<text x="290.2" y="394.5" font-size="11.6">ConsExpo : aerosol concentration in 30 <tspan font-style="italic">m</tspan><tspan font-size="8.4" dy="-3.4">3</tspan></text>
<text x="290.2" y="421.9" font-size="11.6">Exp. : aerosol concentration in 1 position</text>
<circle cx="166.4" cy="424.9" r="2.8" fill="#fff" stroke="#000" stroke-width="1.1"/>
<text x="179.8" y="432.8" font-size="10.2" font-weight="bold" word-spacing="2.6">Measurement position</text>
</svg></body></html>
